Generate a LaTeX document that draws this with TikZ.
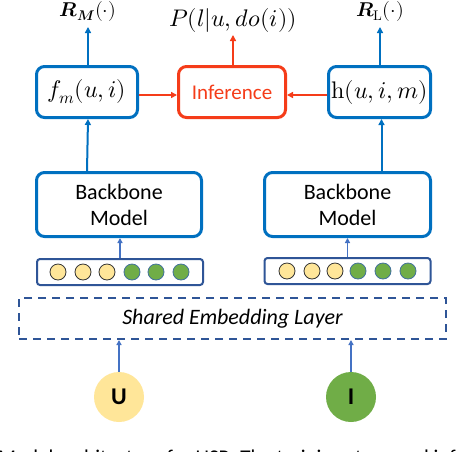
\documentclass[tikz,border=0pt]{standalone}
\usepackage{fontspec}
\usepackage{unicode-math}
\setmainfont{Carlito}
\setmathfont{Latin Modern Math}
\usetikzlibrary{arrows.meta}
\definecolor{cblue}{RGB}{0,112,192}
\definecolor{cred}{RGB}{245,60,25}
\definecolor{cnavy}{RGB}{47,85,151}
\definecolor{clblue}{RGB}{68,114,196}
\definecolor{cyellow}{RGB}{255,230,153}
\definecolor{cgreen}{RGB}{112,173,71}
\definecolor{cgreenline}{RGB}{65,113,156}
\begin{document}
\begin{tikzpicture}[x=1pt,y=-1pt,
  bluebox/.style={draw=cblue,line width=3pt,rounded corners=8pt,inner sep=0pt,align=center},
  redbox/.style={draw=cred,line width=3pt,rounded corners=8pt,inner sep=0pt,text=cred},
  embbox/.style={draw=cnavy,line width=2pt,rounded corners=3pt,inner sep=0pt,minimum width=166pt,minimum height=26pt},
  ydot/.style={circle,draw=black!80,line width=0.8pt,fill=cyellow,minimum size=16pt,inner sep=0pt},
  gdot/.style={circle,draw=cgreenline,line width=0.8pt,fill=cgreen,minimum size=16pt,inner sep=0pt},
  arr/.style={-{Triangle[width=6pt,length=6pt]},line width=2pt},
  sarr/.style={-{Triangle[width=5pt,length=5pt]},line width=1.5pt,draw=clblue},
  txt/.style={font=\fontsize{22}{26}\selectfont},
  mtxt/.style={font=\fontsize{24}{26}\selectfont,inner sep=0pt},
]
\useasboundingbox (0,0) rectangle (474,451);
\clip (0,0) rectangle (474,451);
\fill[white] (0,0) rectangle (474,451);

% top boxes
\node[bluebox,mtxt,minimum width=101pt,minimum height=51pt] (fbox) at (87,92) {$f_m(u,i)$};
\node[redbox,font=\fontsize{21}{26}\selectfont,minimum width=107pt,minimum height=51pt] (inf) at (232,92) {Inference};
\node[bluebox,mtxt,minimum width=102pt,minimum height=51pt] (hbox) at (379.5,92) {$\symup{h}(u,i,m)$};

% labels
\node[font=\fontsize{20}{22}\selectfont,inner sep=0pt] (RM) at (88,11) {$\symbfit{R}_{\symbfit{M}}(\cdot)$};
\node[font=\fontsize{24}{26}\selectfont,inner sep=0pt] (P) at (233,20) {$P(l|u,do(i))$};
\node[font=\fontsize{20}{22}\selectfont,inner sep=0pt] (RL) at (380,11) {$\symbfit{R}_{\symup{L}}(\cdot)$};

% backbone
\node[bluebox,txt,minimum width=165pt,minimum height=64pt] (bbL) at (119,204.5) {Backbone\\Model};
\node[bluebox,txt,minimum width=166pt,minimum height=64pt] (bbR) at (347.5,204.5) {Backbone\\Model};

% embedding boxes
\node[embbox] (embL) at (120,272) {};
\node[embbox] (embR) at (347.5,271) {};
\foreach \x [count=\i] in {58,83,107}{\node[ydot] (l\i) at (\x,272) {};}
\foreach \x [count=\i from 4] in {132,156,181}{\node[gdot] (l\i) at (\x,272) {};}
\foreach \x [count=\i] in {287,312,335}{\node[ydot] (r\i) at (\x,271) {};}
\foreach \x [count=\i from 4] in {358,383,408}{\node[gdot] (r\i) at (\x,271) {};}

% shared embedding
\node[draw=cnavy,line width=2pt,dash pattern=on 8pt off 6pt,minimum width=427pt,minimum height=41pt,inner sep=0pt,
  font=\fontsize{22}{24}\selectfont\itshape] (shared) at (232.5,318.5) {Shared Embedding Layer};

% U and I
\node[circle,fill=cyellow,minimum size=50pt,inner sep=0pt,font=\fontsize{24}{26}\selectfont\bfseries] (U) at (119,397) {U};
\node[circle,fill=cgreen,minimum size=50pt,inner sep=0pt,font=\fontsize{24}{26}\selectfont\bfseries] (I) at (351,397) {I};

% connectors
\draw[sarr] (U) -- (U |- shared.south);
\draw[sarr] (I) -- (I |- shared.south);
\draw[sarr] (embL.north) -- (embL.north |- bbL.south);
\draw[sarr] (embR.north) -- (embR.north |- bbR.south);
\draw[arr,draw=cblue] (fbox.south |- bbL.north) -- ([xshift=1pt]fbox.south);
\draw[arr,draw=cblue] ([xshift=2pt]hbox.south |- bbR.north) -- ([xshift=2pt]hbox.south);
\draw[arr,draw=cblue] ([xshift=1pt]fbox.north) -- ([xshift=1pt]fbox.north |- 0,27);
\draw[arr,draw=cblue] ([xshift=0.5pt]hbox.north) -- ([xshift=0.5pt]hbox.north |- 0,27);
\draw[arr,draw=cred] ([xshift=1pt]inf.north) -- ([xshift=1pt]inf.north |- 0,35);
\draw[arr,draw=cred] ([yshift=-3pt]fbox.east) -- ([yshift=-3pt]inf.west);
\draw[arr,draw=cred] ([yshift=-3pt]hbox.west) -- ([yshift=-3pt]inf.east);

% caption (cut off at the bottom edge, as in the reference)
\node[anchor=base west,inner sep=0pt,font=\fontsize{21}{26}\selectfont] (cap) at (-2,464) {Model architecture for USR. The training stage and inference stage};
\end{tikzpicture}
\end{document}
